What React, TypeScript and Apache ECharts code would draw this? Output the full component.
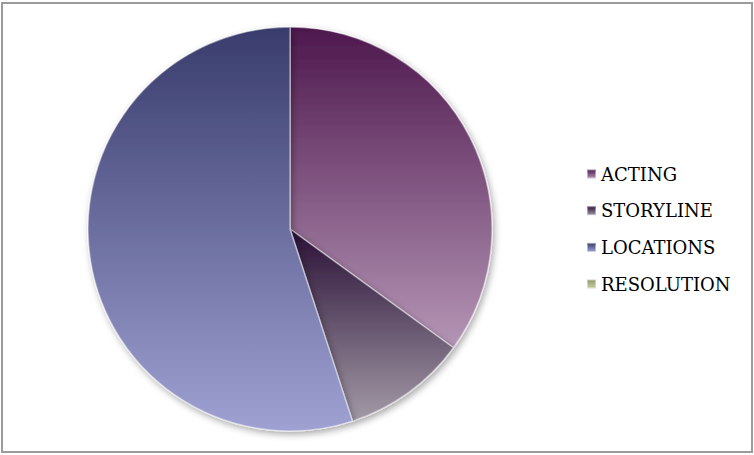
import React, { useEffect, useRef } from 'react';
import * as echarts from 'echarts';

const categories = ['ACTING', 'STORYLINE', 'LOCATIONS', 'RESOLUTION'];
const values = [35, 10, 55, 0];
// top / bottom colours of each slice's vertical gradient
const topColors = ['#4d184d', '#2a1036', '#383c6c', '#8f9a6a'];
const bottomColors = ['#b596b6', '#a29aa6', '#9ea1d2', '#c9cfa8'];

export default function App() {
  const chartRef = useRef<HTMLDivElement>(null);

  useEffect(() => {
    const chart = echarts.init(chartRef.current!, undefined, { renderer: 'svg' });

    const data = categories.map((name, i) => ({
      name,
      value: values[i],
      itemStyle: {
        color: new echarts.graphic.LinearGradient(0, 0, 0, 1, [
          { offset: 0, color: topColors[i] },
          { offset: 1, color: bottomColors[i] },
        ]),
      },
    }));

    chart.setOption({
      animation: false,
      legend: {
        orient: 'vertical',
        left: 586,
        top: 165,
        padding: 0,
        icon: 'rect',
        itemWidth: 9,
        itemHeight: 9,
        itemGap: 18.7,
        data: categories,
        textStyle: {
          fontFamily: 'DejaVu Serif',
          fontSize: 18,
          lineHeight: 18,
          color: '#000',
        },
      },
      series: [
        {
          type: 'pie',
          center: [290, 229],
          radius: 202,
          startAngle: 90,
          clockwise: true,
          label: { show: false },
          labelLine: { show: false },
          emphasis: { disabled: true },
          itemStyle: {
            borderColor: 'rgba(255,255,255,0.45)',
            borderWidth: 1.5,
            shadowBlur: 7,
            shadowColor: 'rgba(0,0,0,0.35)',
            shadowOffsetX: 2,
            shadowOffsetY: 3,
          },
          data,
        },
      ],
    });

    return () => {
      chart.dispose();
    };
  }, []);

  return (
    <div
      style={{
        position: 'fixed',
        left: 0,
        top: 0,
        width: 754,
        height: 455,
        background: '#fff',
      }}
    >
      <div
        style={{
          position: 'absolute',
          left: 1,
          top: 2,
          width: 752,
          height: 451,
          border: '2px solid #9b9b9b',
          boxSizing: 'border-box',
        }}
      />
      <div ref={chartRef} style={{ position: 'absolute', left: 0, top: 0, width: 754, height: 455 }} />
    </div>
  );
}
